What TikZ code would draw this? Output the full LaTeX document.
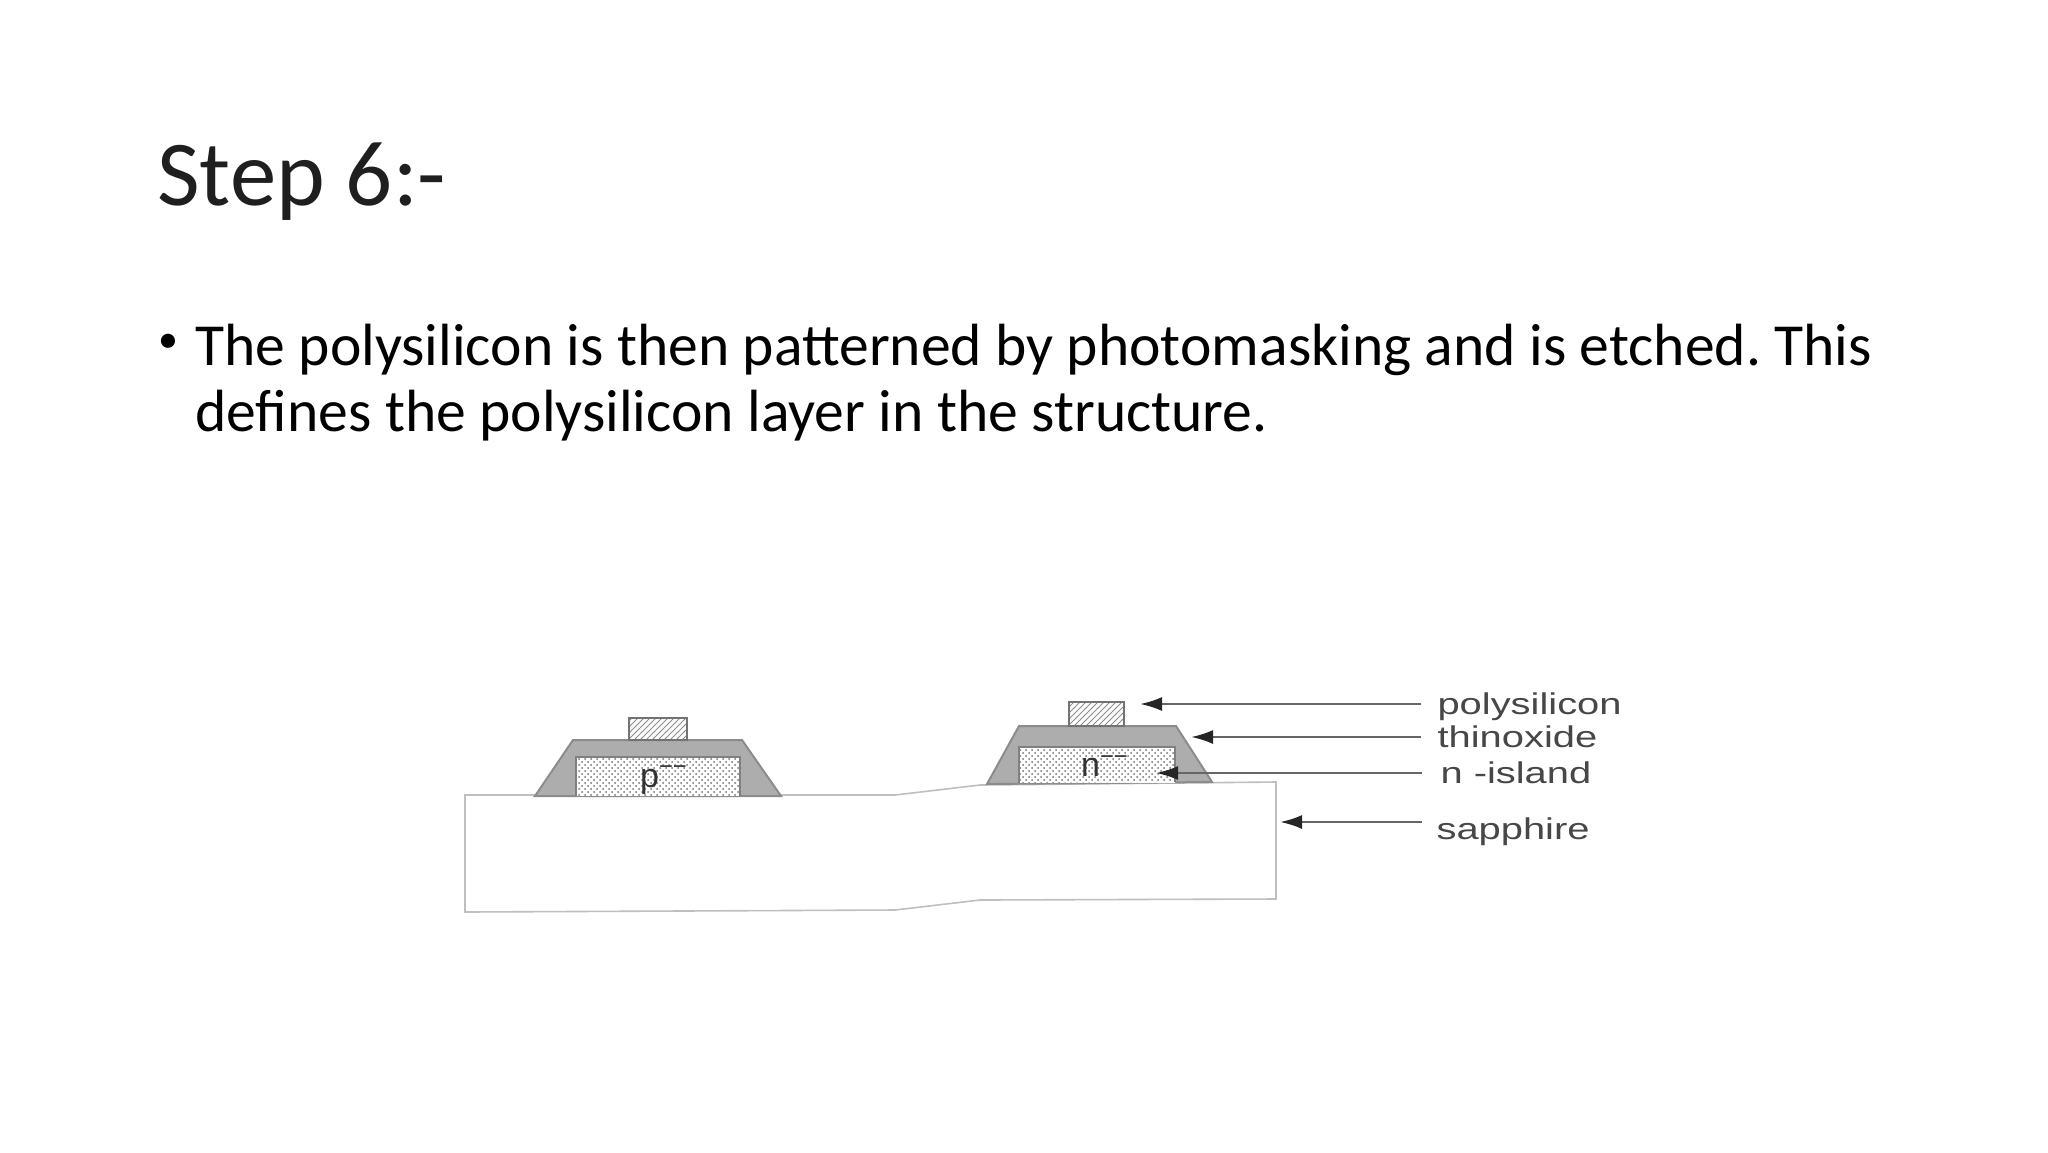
\documentclass[tikz,border=0pt]{standalone}
\usepackage{xcolor}
\usepackage{fontspec}
\setmainfont{Carlito}
\newfontfamily\tagfont{Liberation Sans}
\usetikzlibrary{positioning,patterns,arrows.meta}

\begin{document}
\frenchspacing
\begin{tikzpicture}[
    x=0.5pt,
    y=-0.5pt,
    heading/.style={
        anchor=base west,
        inner sep=0pt,
        text=black!88,
        font=\fontsize{46.4}{50}\selectfont
    },
    bodytext/.style={
        anchor=base west,
        inner sep=0pt,
        align=left,
        font=\fontsize{29.8}{32.6}\selectfont
    },
    oxide/.style={
        draw=black!45,
        fill=black!32,
        line width=1pt
    },
    island/.style={
        draw=black!50,
        pattern=crosshatch dots,
        pattern color=black!55,
        line width=1.2pt
    },
    poly/.style={
        draw=black!55,
        pattern=north east lines,
        pattern color=black!45,
        line width=1.2pt
    },
    substrate/.style={
        draw=black!25,
        line width=0.8pt
    },
    tag/.style={
        anchor=west,
        inner sep=0pt,
        xscale=1.33,
        text=black!72,
        font=\tagfont\fontsize{15}{15}\selectfont
    },
    dopant/.style={
        inner sep=0pt,
        text=black!80,
        font=\tagfont\fontsize{17}{17}\selectfont
    },
    flow/.style={
        -{Latex[length=11pt,width=7pt,color=black!85]},
        draw=black!60,
        line width=1.2pt
    }
]
    \useasboundingbox (0,0) rectangle (2048,1152);

    % Slide text
    \node[heading] (title) at (157,205) {Step 6:-};
    \node[bodytext, font=\fontsize{20}{20}\selectfont] (bullet) at (158,352) {•};
    \node[bodytext] (body) at (195,431) {The polysilicon is then patterned by photomasking and is etched. This\\defines the polysilicon layer in the structure.};

    % Sapphire
    \draw[substrate] (465,795) -- (895,795) -- (980,785) -- (1276,782) -- (1276,899) -- (980,900) -- (895,910) -- (465,912) -- cycle;

    % Left mesa
    \draw[oxide] (535,796) -- (573,740) -- (742,740) -- (781,796) -- cycle;
    \fill[white] (576,757) rectangle (740,796);
    \draw[island] (576,796) -- (576,757) -- (740,757) -- (740,796);
    \draw[poly] (629,718) rectangle (687,740);
    \node[dopant] (pdoped) at (664,780) {p\textsuperscript{−−}};

    % Right mesa
    \draw[oxide] (987,784) -- (1019,726) -- (1176,726) -- (1212,782) -- cycle;
    \fill[white] (1019,747) rectangle (1175,783);
    \draw[island] (1019,783) -- (1019,747) -- (1175,747) -- (1175,782);
    \draw[poly] (1069,702) rectangle (1124,726);
    \node[dopant] (ndoped) at (1105,766) {n\textsuperscript{−−}};

    % Labels on the right
    \node[tag] (polylabel) at (1437,707) {polysilicon};
    \node[tag] (oxidelabel) at (1437,737) {thinoxide};
    \node[tag] (islandlabel) at (1440,773) {n -island};
    \node[tag] (sapphirelabel) at (1436,832) {sapphire};

    % Arrow targets
    \coordinate (polytip) at (1140,704);
    \coordinate (oxidetip) at (1191,737);
    \coordinate (islandtip) at (1156,773);
    \coordinate (sapphiretip) at (1280,822);

    % Arrows
    \draw[flow] ([xshift=-8pt]polylabel.west |- polytip) -- (polytip);
    \draw[flow] ([xshift=-8pt]oxidelabel.west) -- (oxidetip);
    \draw[flow] ([xshift=-9pt]islandlabel.west) -- (islandtip);
    \draw[flow] ([xshift=-7pt]sapphirelabel.west |- sapphiretip) -- (sapphiretip);
\end{tikzpicture}
\end{document}
